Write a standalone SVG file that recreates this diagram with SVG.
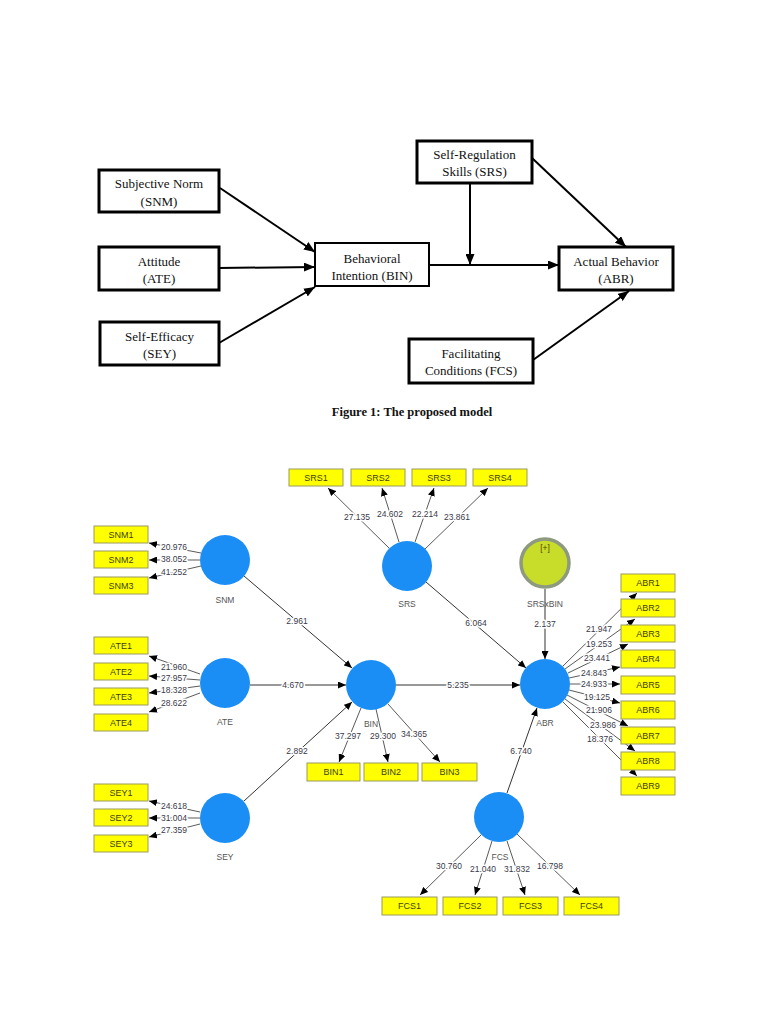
<svg xmlns="http://www.w3.org/2000/svg" width="768" height="1024" viewBox="0 0 768 1024">
<style>
.box{fill:#fff;stroke:#000;stroke-width:3}
.bx2{fill:#fff;stroke:#000;stroke-width:2}
.t{font-family:"Liberation Serif","Times New Roman",serif;font-size:13px;fill:#111;text-anchor:middle}
.cap{font-family:"Liberation Serif","Times New Roman",serif;font-size:12.5px;font-weight:bold;fill:#111;text-anchor:middle}
.tl{stroke:#000;stroke-width:2;fill:none;marker-end:url(#big)}
.lv{fill:#1a8ef5}
.ind{fill:#ffff00;stroke:#9a9a60;stroke-width:1}
.it{font-family:"Liberation Sans",Arial,sans-serif;font-size:9px;fill:#3f3f00;text-anchor:middle}
.nl{font-family:"Liberation Sans",Arial,sans-serif;font-size:8.5px;fill:#555;text-anchor:middle}
.num{font-family:"Liberation Sans",Arial,sans-serif;font-size:8.5px;fill:#3a3a4a;text-anchor:middle;paint-order:stroke;stroke:#fff;stroke-width:3px;stroke-linejoin:round}
.ln{stroke:#5a5a5a;stroke-width:1;fill:none;marker-end:url(#sm)}
.ls{stroke:#333;stroke-width:1;fill:none;marker-end:url(#sm)}
</style>
<defs>
<marker id="big" viewBox="0 0 11 9" refX="11" refY="4.5" markerWidth="11" markerHeight="9" markerUnits="userSpaceOnUse" orient="auto"><path d="M0,0 L11,4.5 L0,9 z" fill="#000"/></marker>
<marker id="sm" viewBox="0 0 8 7" refX="8" refY="3.5" markerWidth="8" markerHeight="7" markerUnits="userSpaceOnUse" orient="auto"><path d="M0,0 L8,3.5 L0,7 z" fill="#000"/></marker>
</defs>
<rect width="768" height="1024" fill="#fff"/>

<!-- Figure 1 -->
<g id="fig1-connectors">
<line class="tl" x1="220" y1="188" x2="315" y2="252"/>
<line class="tl" x1="219" y1="268" x2="315" y2="267"/>
<line class="tl" x1="219" y1="343" x2="315" y2="287"/>
<line class="tl" x1="429" y1="265" x2="559" y2="265"/>
<line class="tl" x1="470" y1="183" x2="470" y2="265"/>
<line class="tl" x1="532" y1="158" x2="626" y2="247"/>
<line class="tl" x1="533" y1="360" x2="629" y2="291"/>
</g>
<g id="f-snm"><rect class="box" x="99" y="170" width="120" height="42"/><text class="t" x="159" y="188">Subjective Norm</text><text class="t" x="159" y="206">(SNM)</text></g>
<g id="f-ate"><rect class="box" x="99" y="247" width="120" height="43"/><text class="t" x="159" y="266">Attitude</text><text class="t" x="159" y="283">(ATE)</text></g>
<g id="f-sey"><rect class="box" x="100" y="322" width="119" height="43"/><text class="t" x="159.5" y="341">Self-Efficacy</text><text class="t" x="159.5" y="358">(SEY)</text></g>
<g id="f-bin"><rect class="bx2" x="315" y="243" width="114" height="43"/><text class="t" x="372" y="263">Behavioral</text><text class="t" x="372" y="280">Intention (BIN)</text></g>
<g id="f-srs"><rect class="box" x="417" y="141" width="115" height="42"/><text class="t" x="474.5" y="159">Self-Regulation</text><text class="t" x="474.5" y="176">Skills (SRS)</text></g>
<g id="f-abr"><rect class="box" x="559" y="247" width="114" height="43"/><text class="t" x="616" y="266">Actual Behavior</text><text class="t" x="616" y="283">(ABR)</text></g>
<g id="f-fcs"><rect class="box" x="409" y="339" width="124" height="44"/><text class="t" x="471" y="358">Facilitating</text><text class="t" x="471" y="375">Conditions (FCS)</text></g>
<text class="cap" x="412" y="416">Figure 1: The proposed model</text>

<!-- SmartPLS model connectors -->
<g id="pls-connectors">
<line class="ln" x1="201" y1="553" x2="149" y2="543"/>
<line class="ln" x1="200" y1="560" x2="149" y2="560"/>
<line class="ln" x1="201" y1="566" x2="149" y2="578"/>
<line class="ln" x1="200" y1="674" x2="149" y2="656"/>
<line class="ln" x1="200" y1="680" x2="149" y2="676"/>
<line class="ln" x1="200" y1="686" x2="149" y2="693"/>
<line class="ln" x1="200" y1="693" x2="149" y2="712"/>
<line class="ln" x1="200" y1="812" x2="149" y2="801"/>
<line class="ln" x1="200" y1="818" x2="149" y2="818"/>
<line class="ln" x1="200" y1="824" x2="149" y2="837"/>
<line class="ln" x1="389" y1="548" x2="328" y2="488"/>
<line class="ln" x1="399" y1="542" x2="382" y2="488"/>
<line class="ln" x1="415" y1="542" x2="434" y2="488"/>
<line class="ln" x1="425" y1="549" x2="488" y2="488"/>
<line class="ln" x1="361" y1="708" x2="339" y2="762"/>
<line class="ln" x1="376" y1="709" x2="388" y2="762"/>
<line class="ln" x1="388" y1="704" x2="440" y2="762"/>
<line class="ln" x1="481" y1="835" x2="420" y2="895"/>
<line class="ln" x1="492" y1="841" x2="475" y2="895"/>
<line class="ln" x1="507" y1="841" x2="525" y2="895"/>
<line class="ln" x1="517" y1="834" x2="580" y2="895"/>
<line class="ln" x1="563" y1="666" x2="637" y2="593"/>
<line class="ln" x1="565" y1="669" x2="635" y2="619"/>
<line class="ln" x1="568" y1="673" x2="628" y2="644"/>
<line class="ln" x1="569" y1="678" x2="620" y2="667"/>
<line class="ln" x1="570" y1="684" x2="620" y2="684"/>
<line class="ln" x1="569" y1="690" x2="620" y2="703"/>
<line class="ln" x1="567" y1="695" x2="628" y2="726"/>
<line class="ln" x1="565" y1="699" x2="635" y2="751"/>
<line class="ln" x1="563" y1="702" x2="637" y2="776"/>
<line class="ls" x1="244" y1="576" x2="352" y2="668"/>
<line class="ls" x1="250" y1="685" x2="346" y2="685"/>
<line class="ls" x1="244" y1="801" x2="352" y2="702"/>
<line class="ls" x1="396" y1="685" x2="520" y2="685"/>
<line class="ls" x1="426" y1="582" x2="526" y2="668"/>
<line class="ls" x1="545" y1="589" x2="545" y2="659"/>
<line class="ls" x1="507" y1="793" x2="537" y2="708"/>
</g>

<g id="pls-labels">
<text class="num" x="174" y="550">20.976</text>
<text class="num" x="174" y="562">38.052</text>
<text class="num" x="174" y="575">41.252</text>
<text class="num" x="174" y="670">21.960</text>
<text class="num" x="174" y="681">27.957</text>
<text class="num" x="174" y="693">18.328</text>
<text class="num" x="174" y="706">28.622</text>
<text class="num" x="174" y="809">24.618</text>
<text class="num" x="174" y="821">31.004</text>
<text class="num" x="174" y="833">27.359</text>
<text class="num" x="357" y="520">27.135</text>
<text class="num" x="390" y="517">24.602</text>
<text class="num" x="425" y="517">22.214</text>
<text class="num" x="457" y="520">23.861</text>
<text class="num" x="348" y="739">37.297</text>
<text class="num" x="383" y="739">29.300</text>
<text class="num" x="414" y="737">34.365</text>
<text class="num" x="449" y="869">30.760</text>
<text class="num" x="483" y="872">21.040</text>
<text class="num" x="517" y="872">31.832</text>
<text class="num" x="550" y="869">16.798</text>
<text class="num" x="599" y="632">21.947</text>
<text class="num" x="599" y="647">19.253</text>
<text class="num" x="597" y="661">23.441</text>
<text class="num" x="594" y="676">24.843</text>
<text class="num" x="594" y="687">24.933</text>
<text class="num" x="597" y="700">19.125</text>
<text class="num" x="599" y="713">21.906</text>
<text class="num" x="603" y="728">23.986</text>
<text class="num" x="600" y="742">18.376</text>
<text class="num" x="297" y="624">2.961</text>
<text class="num" x="293" y="688">4.670</text>
<text class="num" x="297" y="754">2.892</text>
<text class="num" x="458" y="688">5.235</text>
<text class="num" x="476" y="626">6.064</text>
<text class="num" x="545" y="627">2.137</text>
<text class="num" x="521" y="754">6.740</text>
</g>

<g id="n-snm"><circle class="lv" cx="225" cy="560" r="25"/><text class="nl" x="225" y="603">SNM</text></g>
<g id="n-ate"><circle class="lv" cx="225" cy="683" r="25"/><text class="nl" x="225" y="725">ATE</text></g>
<g id="n-sey"><circle class="lv" cx="225" cy="818" r="25"/><text class="nl" x="225" y="860">SEY</text></g>
<g id="n-bin"><circle class="lv" cx="371" cy="685" r="25"/><text class="nl" x="371" y="727">BIN</text></g>
<g id="n-srs"><circle class="lv" cx="407" cy="566" r="25"/><text class="nl" x="407" y="607">SRS</text></g>
<g id="n-srsxbin"><circle cx="545" cy="563" r="24" fill="#c8dc2a" stroke="#8e9a80" stroke-width="3.5"/><text x="545" y="551" font-family="Liberation Sans, Arial, sans-serif" font-size="8.5" fill="#5a4500" text-anchor="middle">[+]</text><text class="nl" x="545" y="607">SRSxBIN</text></g>
<g id="n-abr"><circle class="lv" cx="545" cy="684" r="25"/><text class="nl" x="545" y="726">ABR</text></g>
<g id="n-fcs"><circle class="lv" cx="499" cy="817" r="25"/><text class="nl" x="500" y="860">FCS</text></g>

<g id="i-snm1"><rect class="ind" x="94" y="526" width="54" height="17"/><text class="it" x="121" y="537.5">SNM1</text></g>
<g id="i-snm2"><rect class="ind" x="94" y="551" width="54" height="17"/><text class="it" x="121" y="562.5">SNM2</text></g>
<g id="i-snm3"><rect class="ind" x="94" y="577" width="54" height="17"/><text class="it" x="121" y="588.5">SNM3</text></g>
<g id="i-ate1"><rect class="ind" x="94" y="637" width="54" height="17"/><text class="it" x="121" y="648.5">ATE1</text></g>
<g id="i-ate2"><rect class="ind" x="94" y="663" width="54" height="17"/><text class="it" x="121" y="674.5">ATE2</text></g>
<g id="i-ate3"><rect class="ind" x="94" y="688" width="54" height="17"/><text class="it" x="121" y="699.5">ATE3</text></g>
<g id="i-ate4"><rect class="ind" x="94" y="714" width="54" height="17"/><text class="it" x="121" y="725.5">ATE4</text></g>
<g id="i-sey1"><rect class="ind" x="94" y="784" width="54" height="17"/><text class="it" x="121" y="795.5">SEY1</text></g>
<g id="i-sey2"><rect class="ind" x="94" y="809" width="54" height="17"/><text class="it" x="121" y="820.5">SEY2</text></g>
<g id="i-sey3"><rect class="ind" x="94" y="835" width="54" height="17"/><text class="it" x="121" y="846.5">SEY3</text></g>
<g id="i-srs1"><rect class="ind" x="289" y="469" width="54" height="17"/><text class="it" x="316" y="480.5">SRS1</text></g>
<g id="i-srs2"><rect class="ind" x="351" y="469" width="54" height="17"/><text class="it" x="378" y="480.5">SRS2</text></g>
<g id="i-srs3"><rect class="ind" x="412" y="469" width="54" height="17"/><text class="it" x="439" y="480.5">SRS3</text></g>
<g id="i-srs4"><rect class="ind" x="473" y="469" width="54" height="17"/><text class="it" x="500" y="480.5">SRS4</text></g>
<g id="i-bin1"><rect class="ind" x="307" y="763" width="53" height="18"/><text class="it" x="333.5" y="775">BIN1</text></g>
<g id="i-bin2"><rect class="ind" x="364" y="763" width="54" height="18"/><text class="it" x="391" y="775">BIN2</text></g>
<g id="i-bin3"><rect class="ind" x="422" y="763" width="55" height="18"/><text class="it" x="449.5" y="775">BIN3</text></g>
<g id="i-abr1"><rect class="ind" x="621" y="574" width="54" height="18"/><text class="it" x="648" y="586">ABR1</text></g>
<g id="i-abr2"><rect class="ind" x="621" y="599" width="54" height="18"/><text class="it" x="648" y="611">ABR2</text></g>
<g id="i-abr3"><rect class="ind" x="621" y="625" width="54" height="17"/><text class="it" x="648" y="636.5">ABR3</text></g>
<g id="i-abr4"><rect class="ind" x="621" y="650" width="54" height="18"/><text class="it" x="648" y="662">ABR4</text></g>
<g id="i-abr5"><rect class="ind" x="621" y="676" width="54" height="18"/><text class="it" x="648" y="688">ABR5</text></g>
<g id="i-abr6"><rect class="ind" x="621" y="701" width="54" height="18"/><text class="it" x="648" y="713">ABR6</text></g>
<g id="i-abr7"><rect class="ind" x="621" y="727" width="54" height="17"/><text class="it" x="648" y="738.5">ABR7</text></g>
<g id="i-abr8"><rect class="ind" x="621" y="752" width="54" height="18"/><text class="it" x="648" y="764">ABR8</text></g>
<g id="i-abr9"><rect class="ind" x="621" y="777" width="54" height="18"/><text class="it" x="648" y="789">ABR9</text></g>
<g id="i-fcs1"><rect class="ind" x="382" y="897" width="55" height="18"/><text class="it" x="409.5" y="909">FCS1</text></g>
<g id="i-fcs2"><rect class="ind" x="443" y="897" width="54" height="18"/><text class="it" x="470" y="909">FCS2</text></g>
<g id="i-fcs3"><rect class="ind" x="503" y="897" width="55" height="18"/><text class="it" x="530.5" y="909">FCS3</text></g>
<g id="i-fcs4"><rect class="ind" x="564" y="897" width="55" height="18"/><text class="it" x="591.5" y="909">FCS4</text></g>
</svg>
